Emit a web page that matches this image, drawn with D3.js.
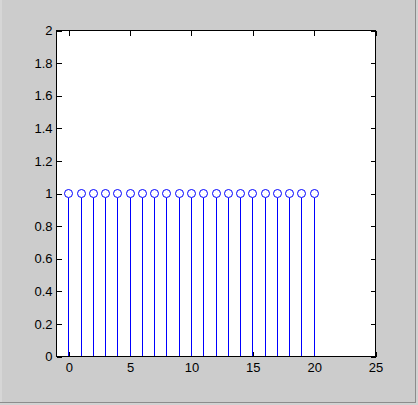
<!DOCTYPE html>
<html>
<head>
<meta charset="utf-8">
<script src="https://cdn.jsdelivr.net/npm/d3@7"></script>
<style>
  html, body { margin: 0; padding: 0; background: #cccccc; overflow: hidden; }
  svg { display: block; }
  .tick text { font-family: "Liberation Sans", Arial, sans-serif; font-size: 13px; fill: #000; }
  .tick line { stroke: #000; shape-rendering: crispEdges; }
  .domain { display: none; }
</style>
</head>
<body>
<script>
// stem data: n = 0..20, x[n] = 1
var samples = [0,1,2,3,4,5,6,7,8,9,10,11,12,13,14,15,16,17,18,19,20];
var values  = [1,1,1,1,1,1,1,1,1,1,1,1,1,1,1,1,1,1,1,1,1];
var xTicks = [0,5,10,15,20,25];
var yTicks = [0,0.2,0.4,0.6,0.8,1,1.2,1.4,1.6,1.8,2];

window.onload = function(){
  var width = 418, height = 405;
  var svg = d3.select("body").append("svg")
      .attr("width", width)
      .attr("height", height);

  // window frame
  svg.append("rect").attr("x",0).attr("y",0).attr("width",width).attr("height",height).attr("fill","#cccccc");
  svg.append("rect").attr("x",0).attr("y",0).attr("width",2).attr("height",height).attr("fill","#d6d6d6");
  svg.append("rect").attr("x",0).attr("y",height-3).attr("width",width-2).attr("height",1).attr("fill","#8c8c8c");
  svg.append("rect").attr("x",0).attr("y",height-2).attr("width",width).attr("height",2).attr("fill","#d2d2d2");
  svg.append("rect").attr("x",width-3).attr("y",0).attr("width",1).attr("height",height-2).attr("fill","#8c8c8c");
  svg.append("rect").attr("x",width-2).attr("y",0).attr("width",2).attr("height",height).attr("fill","#d2d2d2");

  var x = d3.scaleLinear().domain([-1,25]).range([56.5,375.5]);
  var y = d3.scaleLinear().domain([0,2]).range([356.5,30.5]);

  // axes background
  svg.append("rect")
      .attr("x",56.5).attr("y",30.5)
      .attr("width",319).attr("height",326)
      .attr("fill","#fff");

  svg.append("g").attr("transform","translate(0,356.5)")
      .call(d3.axisBottom(x).tickValues(xTicks).tickSize(-5).tickPadding(6).tickFormat(d3.format("d")));
  svg.append("g").attr("transform","translate(0,30.5)")
      .call(d3.axisTop(x).tickValues(xTicks).tickSize(-5).tickFormat(""));
  svg.append("g").attr("transform","translate(56.5,0)")
      .call(d3.axisLeft(y).tickValues(yTicks).tickSize(-5).tickPadding(4).tickFormat(function(d){return d3.format("")(+d.toFixed(1));}));
  svg.append("g").attr("transform","translate(375.5,0)")
      .call(d3.axisRight(y).tickValues(yTicks).tickSize(-5).tickFormat(""));

  var pts = samples.map(function(s,i){ return {n:s, v:values[i]}; });
  var px = function(d){ return Math.floor(x(d.n)) + 0.5; };

  svg.selectAll(".stem").data(pts).enter().append("line")
      .attr("class","stem")
      .attr("x1",px).attr("x2",px)
      .attr("y1",function(d){return y(0);})
      .attr("y2",function(d){return y(d.v)+4;})
      .attr("stroke","#0000ff")
      .style("shape-rendering","crispEdges");

  svg.selectAll(".mk").data(pts).enter().append("circle")
      .attr("class","mk")
      .attr("cx",px)
      .attr("cy",function(d){return Math.floor(y(d.v))+0.5;})
      .attr("r",4)
      .attr("fill","none")
      .attr("stroke","#0000ff");

  svg.append("rect")
      .attr("x",56.5).attr("y",30.5)
      .attr("width",319).attr("height",326)
      .attr("fill","none").attr("stroke","#000")
      .style("shape-rendering","crispEdges");
};
</script>
</body>
</html>
